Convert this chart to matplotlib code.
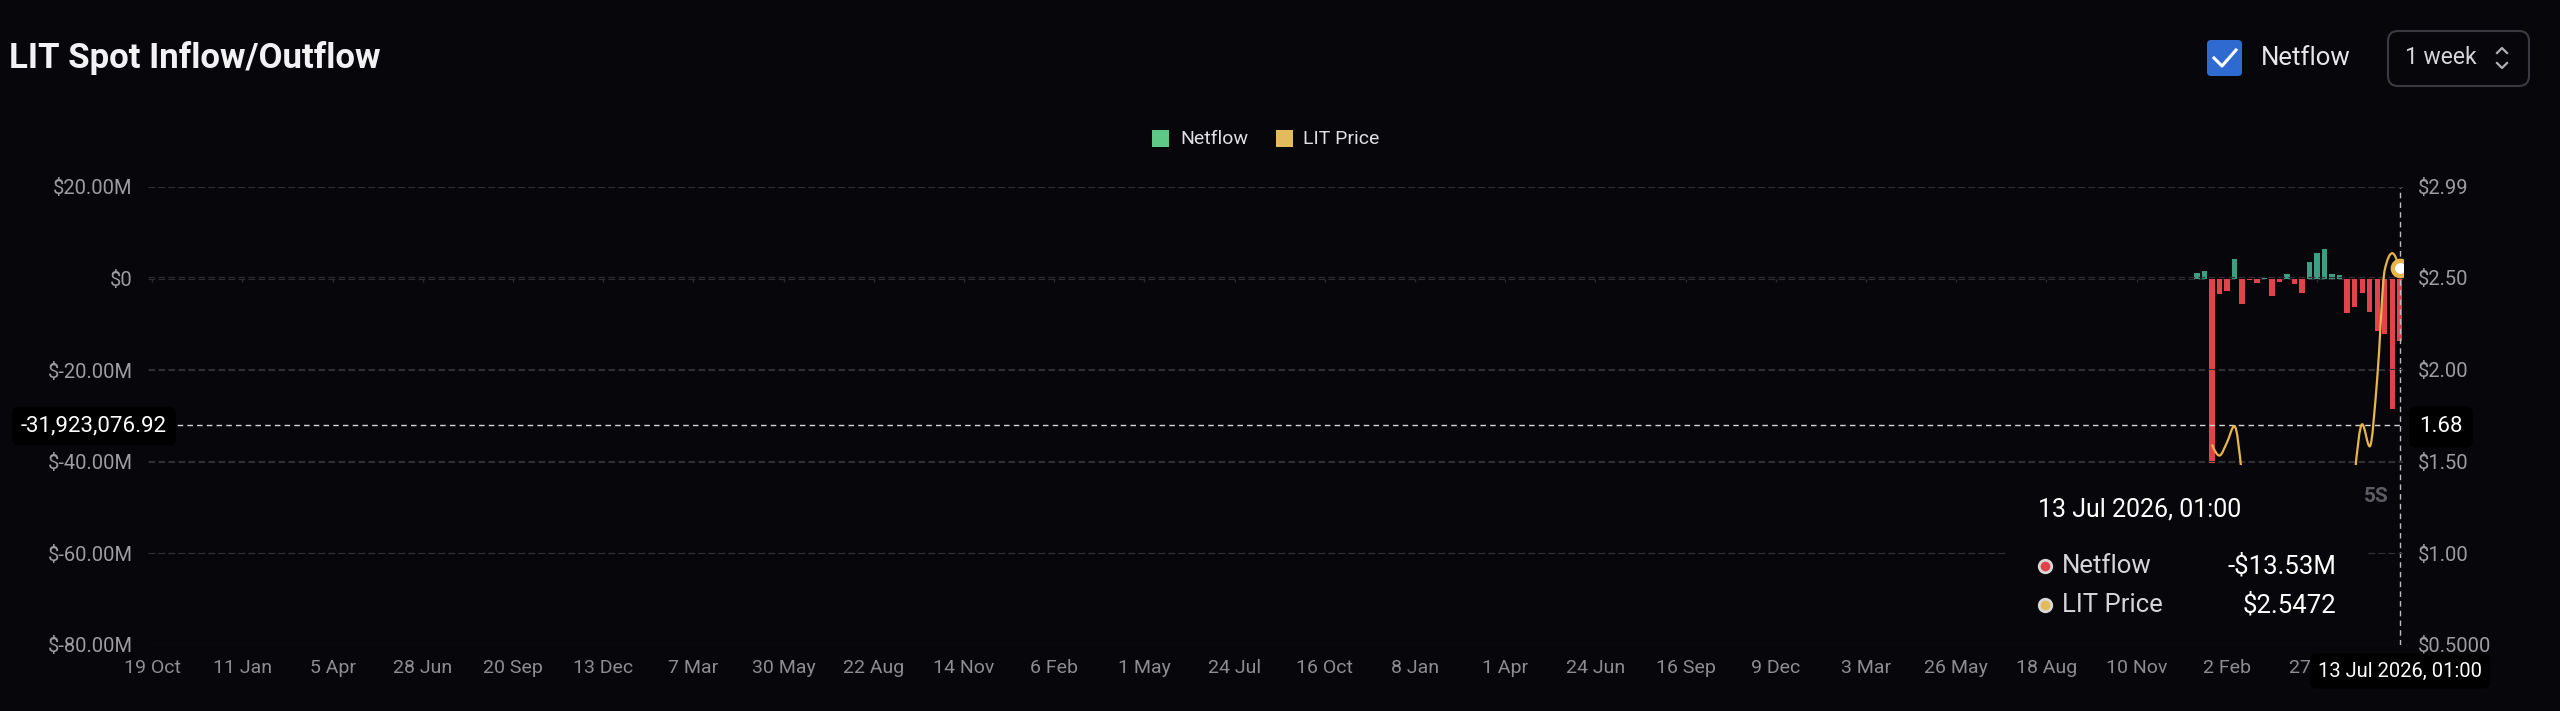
import matplotlib
matplotlib.use('Agg')
import matplotlib.pyplot as plt
import matplotlib.dates as mdates
from matplotlib.patches import FancyBboxPatch, PathPatch, Rectangle
from matplotlib.path import Path
from matplotlib.lines import Line2D
from matplotlib.transforms import IdentityTransform
from matplotlib.ticker import FuncFormatter
import numpy as np
import pandas as pd

W, H = 2560, 711
BG = '#07070b'
GREEN = '#3d9e84'
RED = '#e0444a'
GOLD = '#e8b54a'
GRID = '#2e2e33'
TICK = '#9c9ca1'

plt.rcParams['font.family'] = ['Roboto', 'DejaVu Sans']

# weekly netflow, USD millions (week start)
flow_dates = ['2025-02-03',
              '2026-01-05', '2026-01-12', '2026-01-19', '2026-01-26', '2026-02-02',
              '2026-02-09', '2026-02-16', '2026-02-23', '2026-03-02', '2026-03-09',
              '2026-03-16', '2026-03-23', '2026-03-30', '2026-04-06', '2026-04-13',
              '2026-04-20', '2026-04-27', '2026-05-04', '2026-05-11', '2026-05-18',
              '2026-05-25', '2026-06-01', '2026-06-08', '2026-06-15', '2026-06-22',
              '2026-06-29', '2026-07-06', '2026-07-13']
netflow = [-0.15,
           1.15, 1.6, -40.3, -3.3, -2.6,
           4.2, -5.6, -0.3, -0.9, 0.15,
           -3.9, -0.65, 1.1, -1.2, -3.2,
           3.6, 5.6, 6.5, 0.9, 0.7,
           -7.5, -6.3, -3.1, -7.2, -11.4,
           -12.0, -28.4, -13.53]

# LIT price (USD), None where the line is not drawn
price_dates = flow_dates[1:]
price = [None, None, 1.59, 1.53, 1.60,
         1.69, 1.42, None, None, None,
         None, None, None, None, None,
         None, None, None, None, None,
         None, 1.42, 1.70, 1.58, 1.95,
         2.54, 2.63, 2.5472]

tick_dates = ['2020-10-19', '2021-01-11', '2021-04-05', '2021-06-28', '2021-09-20',
              '2021-12-13', '2022-03-07', '2022-05-30', '2022-08-22', '2022-11-14',
              '2023-02-06', '2023-05-01', '2023-07-24', '2023-10-16', '2024-01-08',
              '2024-04-01', '2024-06-24', '2024-09-16', '2024-12-09', '2025-03-03',
              '2025-05-26', '2025-08-18', '2025-11-10', '2026-02-02', '2026-04-27']
flow_ticks = [20, 0, -20, -40, -60, -80]
price_ticks = [2.99, 2.50, 2.00, 1.50, 1.00, 0.50]
price_labels = ['$2.99', '$2.50', '$2.00', '$1.50', '$1.00', '$0.5000']

cross_date = '2026-07-13'
cross_flow = -31923076.92
cross_price = 1.68


def smooth_path(xs, ys):
    # monotone cubic through the points, as bezier segments
    n = len(xs)
    h = np.diff(xs)
    d = np.diff(ys) / h
    m = np.zeros(n)
    for k in range(1, n - 1):
        if d[k - 1] * d[k] > 0:
            p = (d[k - 1] * h[k] + d[k] * h[k - 1]) / (h[k - 1] + h[k])
            m[k] = np.sign(d[k]) * min(2 * abs(d[k - 1]), 2 * abs(d[k]), abs(p))
    m[0] = (3 * d[0] - m[1]) / 2 if n > 2 else d[0]
    m[-1] = (3 * d[-1] - m[-2]) / 2 if n > 2 else d[-1]
    verts = [(xs[0], ys[0])]
    codes = [Path.MOVETO]
    for k in range(n - 1):
        verts += [(xs[k] + h[k] / 3, ys[k] + m[k] * h[k] / 3),
                  (xs[k + 1] - h[k] / 3, ys[k + 1] - m[k + 1] * h[k] / 3),
                  (xs[k + 1], ys[k + 1])]
        codes += [Path.CURVE4] * 3
    return Path(verts, codes)


def px_box(x0, y0, x1, y1, r=0, **kw):
    p = FancyBboxPatch((x0, H - y1), x1 - x0, y1 - y0,
                       boxstyle=f'round,pad=0,rounding_size={r}',
                       transform=IdentityTransform(), **kw)
    fig.add_artist(p)
    return p


def px_text(x, y, s, **kw):
    return fig.text(x, H - y, s, transform=IdentityTransform(), **kw)


fig = plt.figure(figsize=(W / 100, H / 100), dpi=100, facecolor=BG)

L, R, T, B = 148, 2403, 187, 645
ax = fig.add_axes([L / W, 1 - B / H, (R - L) / W, (B - T) / H])
ax.set_facecolor(BG)
for s in ax.spines.values():
    s.set_visible(False)

fd = pd.to_datetime(flow_dates)
vals = np.array(netflow) * 1e6
colors = [GREEN if v >= 0 else RED for v in vals]
ax.bar(fd, vals, width=5, color=colors, zorder=2)

td = pd.to_datetime(tick_dates)
ax.vlines(td, -0.7e6, 0, color='#2a2a2f', lw=1, zorder=1)

ax.set_ylim(-80e6, 20e6)
ax.set_yticks([v * 1e6 for v in flow_ticks])
ax.yaxis.set_major_formatter(FuncFormatter(
    lambda v, p: '$0' if v == 0 else f'${v / 1e6:.2f}M'))
ax.set_xlim(pd.Timestamp('2020-10-15'), pd.Timestamp('2026-07-16'))
ax.set_xticks(td)
ax.xaxis.set_major_formatter(FuncFormatter(
    lambda v, p: f'{mdates.num2date(v).day} {mdates.num2date(v):%b}'))
ax.grid(axis='y', color=GRID, ls=(0, (6, 3)), lw=0.8, zorder=0)
ax.tick_params(length=0, labelsize=14.5, labelcolor=TICK)
ax.tick_params(axis='y', pad=11)
ax.tick_params(axis='x', pad=10, labelcolor='#8c8c91', labelsize=14)

# crosshair
ax.axhline(cross_flow, color='#d4d4d4', ls=(0, (4, 3)), lw=1.0, zorder=4)
ax.axvline(pd.Timestamp(cross_date), color='#bdbdbd', ls=(0, (4, 3)), lw=1.0, zorder=4)

ax2 = ax.twinx()
for s in ax2.spines.values():
    s.set_visible(False)
ax2.set_ylim(0.5, 2.99)
ax2.set_yticks(price_ticks)
ax2.set_yticklabels(price_labels)
ax2.grid(axis='y', color=GRID, ls=(0, (6, 3)), lw=0.8, zorder=0)
ax2.tick_params(length=0, labelsize=14.5, labelcolor=TICK, pad=11)

# price line, drawn in runs, clipped at the bottom like the source
pd_num = mdates.date2num(pd.to_datetime(price_dates))
clip = Rectangle((pd_num[0] - 30, 1.48), 400, 5, transform=ax2.transData)
run_x, run_y = [], []
for x, y in list(zip(pd_num, price)) + [(None, None)]:
    if y is None:
        if len(run_x) > 1:
            patch = PathPatch(smooth_path(np.array(run_x), np.array(run_y)),
                              fill=False, ec=GOLD, lw=1.6, zorder=5)
            ax2.add_patch(patch)
            patch.set_clip_path(clip)
        run_x, run_y = [], []
    else:
        run_x.append(x)
        run_y.append(y)
ax2.plot([pd.Timestamp(cross_date)], [price[-1]], 'o', ms=11, mfc='white',
         mec=GOLD, mew=3.2, zorder=7)

# title and header controls
px_text(9, 58, 'LIT Spot Inflow/Outflow', fontsize=25, fontweight='bold',
        color='#f2f2f5', va='center')
px_box(2207, 40, 2242, 76, r=4, fc='#2f6ad0', ec='none')
fig.add_artist(Line2D([2214, 2222, 2236], [H - 58, H - 66, H - 50],
                      transform=IdentityTransform(), color='white', lw=2.2))
px_text(2261, 58, 'Netflow', fontsize=18.5, color='#e6e6e8', va='center')
px_box(2388, 31, 2529, 86, r=10, fc='none', ec='#3a3a40', lw=1.5)
px_text(2405, 58, '1 week', fontsize=16.5, color='#d6d6d8', va='center')
fig.add_artist(Line2D([2497, 2502, 2507], [H - 53, H - 48, H - 53],
                      transform=IdentityTransform(), color='#b0b0b4', lw=1.6))
fig.add_artist(Line2D([2497, 2502, 2507], [H - 63, H - 68, H - 63],
                      transform=IdentityTransform(), color='#b0b0b4', lw=1.6))

# legend
px_box(1152, 130, 1169, 147, fc='#5ec886', ec='none')
px_text(1180, 139, 'Netflow', fontsize=14, color='#e0e0e2', va='center')
px_box(1276, 130, 1293, 147, fc='#e3bb5c', ec='none')
px_text(1303, 139, 'LIT Price', fontsize=14, color='#e0e0e2', va='center')

# crosshair labels
px_text(94, 426, f'{cross_flow:,.2f}', fontsize=16, color='white', ha='center', va='center',
        bbox=dict(boxstyle='round,pad=0.4,rounding_size=0.3', fc='black', ec='none'))
px_text(2441, 427, f'{cross_price:.2f}', fontsize=16, color='white', ha='center',
        va='center',
        bbox=dict(boxstyle='round,pad=0.45,rounding_size=0.3', fc='black', ec='none'))
px_text(2400, 671, '13 Jul 2026, 01:00', fontsize=14.5, color='white', ha='center',
        va='center',
        bbox=dict(boxstyle='round,pad=0.4,rounding_size=0.3', fc='black', ec='none'))

# tooltip
px_box(2007, 480, 2366, 640, r=8, fc=BG, ec='none')
px_text(2038, 509, '13 Jul 2026, 01:00', fontsize=18, color='white', va='center')
fig.add_artist(Line2D([2045], [H - 566], transform=IdentityTransform(), marker='o',
                      ms=9, mfc=RED, mec='#d8d8d8', mew=2))
fig.add_artist(Line2D([2045], [H - 605], transform=IdentityTransform(), marker='o',
                      ms=9, mfc='#e3bb5c', mec='#d8d8d8', mew=2))
px_text(2062, 566, 'Netflow', fontsize=18.5, color='#d6d6d8', va='center')
px_text(2062, 605, 'LIT Price', fontsize=18.5, color='#d6d6d8', va='center')
px_text(2336, 566, f'-${abs(netflow[-1]):.2f}M', fontsize=18.5, color='white',
        ha='right', va='center')
px_text(2336, 605, f'${price[-1]:.4f}', fontsize=18.5, color='white',
        ha='right', va='center')
px_text(2376, 497, '5S', fontsize=15, fontweight='bold', color='#5c5c62',
        ha='center', va='center')

fig.savefig('out.png', dpi=100, facecolor=BG)
